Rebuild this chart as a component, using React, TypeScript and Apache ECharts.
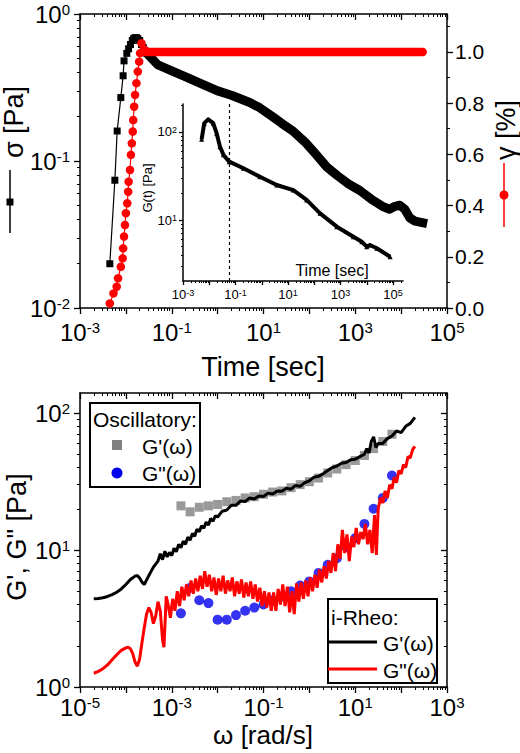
import React, { useEffect, useRef } from "react";
import * as echarts from "echarts";

const FONT = "'Liberation Sans', Arial, Helvetica, sans-serif";

// ---------- Top panel: start-up of stress sigma(t) and strain gamma(t) ----------
const sigmaRiseLogT = [-2.35, -2.24, -2.19, -2.11, -2.06, -2.04, -1.98, -1.94, -1.9, -1.86, -1.83, -1.8, -1.77, -1.74, -1.7, -1.66, -1.62, -1.58, -1.54];
const sigmaRise = [0.02, 0.074, 0.16, 0.27, 0.38, 0.48, 0.54, 0.58, 0.62, 0.66, 0.68, 0.69, 0.69, 0.68, 0.66, 0.62, 0.59, 0.56, 0.54];
const sigmaDecayLogT = [-1.54, -1.3, -1.0, -0.67, -0.3, 0.0, 0.3, 0.7, 0.92, 1.2, 1.4, 1.64, 1.9, 2.1, 2.38, 2.6, 2.85, 3.1, 3.35, 3.6, 3.75, 3.85, 3.97, 4.08, 4.19, 4.3, 4.47];
const sigmaDecay = [0.54, 0.45, 0.41, 0.37, 0.33, 0.3, 0.28, 0.25, 0.23, 0.2, 0.18, 0.16, 0.135, 0.115, 0.091, 0.08, 0.07, 0.063, 0.055, 0.049, 0.047, 0.049, 0.05, 0.047, 0.041, 0.039, 0.038];

const gammaRiseLogT = [-2.35, -2.27, -2.2, -2.17, -2.11, -2.07, -2.06, -2.04, -2.02, -2.0, -1.97, -1.95, -1.94, -1.91, -1.89, -1.87, -1.85, -1.84, -1.82, -1.8, -1.77, -1.74, -1.71, -1.69, -1.66, -1.6];
const gammaRise = [0.018, 0.057, 0.083, 0.116, 0.161, 0.194, 0.233, 0.279, 0.324, 0.37, 0.409, 0.454, 0.493, 0.539, 0.598, 0.643, 0.689, 0.734, 0.786, 0.832, 0.878, 0.923, 0.962, 0.995, 1.034, 1.01];
const gammaPlateauLogT = [-1.57, 4.47];
const gammaPlateau = [1.0, 1.0];

// Inset: relaxation modulus G(t)
const insetLogT = [-2.29, -2.19, -2.04, -1.85, -1.72, -1.59, -1.46, -1.24, -0.7, -0.07, 0.57, 1.2, 1.71, 2.22, 2.86, 3.49, 3.81, 4.0, 4.12, 4.38, 4.89];
const insetG = [82.6, 126, 139, 126, 97, 68, 55, 46, 38.7, 31, 25, 21.9, 16.9, 11.9, 8.4, 6.46, 5.66, 4.98, 5.2, 4.77, 3.83];
const insetDashLogT = -1.24;

// ---------- Bottom panel: G'(w), G''(w) ----------
const oscLogW = [-2.8, -2.6, -2.4, -2.2, -2.0, -1.8, -1.6, -1.4, -1.2, -1.0, -0.8, -0.6, -0.4, -0.2, 0.0, 0.2, 0.4, 0.6, 0.8, 1.0, 1.2, 1.4, 1.6, 1.8];
const oscGp = [21, 19, 20.5, 21, 21.5, 22.5, 23, 24, 24.5, 25.5, 26.5, 27, 28.5, 30, 31.5, 33.5, 36.5, 39, 42, 45, 49, 55, 62, 70];
const oscGpp = [3.45, 5.3, 4.3, 4.1, 3.1, 3.1, 3.35, 3.6, 3.8, 4.0, 4.3, 4.6, 5.0, 5.5, 5.9, 6.8, 7.8, 8.7, 10.5, 12.2, 15.5, 20, 24, 35];

const rheoGpLogW = [-4.7, -4.6, -4.5, -4.4, -4.3, -4.2, -4.1, -4.0, -3.9, -3.8, -3.75, -3.7, -3.65, -3.6, -3.5, -3.4, -3.3, -3.25, -3.2, -3.15, -3.1, -3.05, -3.0, -2.95, -2.9, -2.85, -2.8, -2.75, -2.7, -2.65, -2.6, -2.55, -2.5, -2.45, -2.4, -2.35, -2.3, -2.25, -2.2, -2.15, -2.1, -2.05, -2.0, -1.9, -1.8, -1.7, -1.6, -1.5, -1.4, -1.3, -1.2, -1.1, -1.0, -0.9, -0.8, -0.7, -0.6, -0.5, -0.4, -0.3, -0.2, -0.1, 0.0, 0.1, 0.2, 0.3, 0.4, 0.5, 0.6, 0.7, 0.8, 0.9, 1.0, 1.1, 1.2, 1.25, 1.3, 1.35, 1.4, 1.45, 1.5, 1.6, 1.7, 1.8, 1.9, 2.0, 2.1, 2.2, 2.3];
const rheoGp = [4.4, 4.42, 4.48, 4.58, 4.72, 4.92, 5.2, 5.6, 6.1, 6.45, 6.5, 6.25, 5.85, 5.6, 6.5, 7.5, 8.3, 9.4, 8.5, 9.8, 8.9, 9.6, 9.1, 10.3, 9.7, 11.0, 10.4, 11.6, 11.0, 12.4, 11.8, 13.2, 12.6, 14.2, 13.6, 15.0, 14.4, 16.0, 15.2, 17.0, 16.2, 17.8, 17.4, 19.2, 19.6, 21.2, 21.2, 22.8, 22.6, 24.0, 23.6, 24.8, 24.6, 26.0, 25.6, 27.0, 26.8, 28.2, 27.8, 29.6, 29.2, 31.0, 32.0, 34.0, 34.5, 36.0, 38.0, 40.0, 41.0, 43.0, 43.5, 45.5, 46.0, 48.0, 50.0, 55.0, 51.0, 62.0, 67.0, 56.0, 60.0, 60.0, 65.0, 68.0, 74.0, 72.0, 80.0, 84.0, 93.0];

const rheoGppLogW = [-4.7, -4.6, -4.5, -4.4, -4.3, -4.2, -4.1, -4.0, -3.95, -3.9, -3.85, -3.8, -3.75, -3.7, -3.65, -3.6, -3.55, -3.5, -3.45, -3.4, -3.35, -3.3, -3.25, -3.2, -3.17, -3.12, -3.08, -3.03, -2.98, -2.93, -2.88, -2.83, -2.78, -2.73, -2.68, -2.63, -2.58, -2.53, -2.48, -2.43, -2.38, -2.33, -2.28, -2.23, -2.18, -2.13, -2.08, -2.03, -1.98, -1.93, -1.88, -1.83, -1.78, -1.73, -1.68, -1.63, -1.58, -1.53, -1.48, -1.43, -1.38, -1.33, -1.28, -1.23, -1.18, -1.13, -1.08, -1.03, -0.98, -0.93, -0.88, -0.83, -0.78, -0.73, -0.68, -0.63, -0.58, -0.53, -0.48, -0.43, -0.38, -0.33, -0.28, -0.23, -0.18, -0.13, -0.08, -0.03, 0.02, 0.07, 0.12, 0.17, 0.22, 0.27, 0.32, 0.37, 0.42, 0.47, 0.52, 0.57, 0.62, 0.67, 0.72, 0.77, 0.82, 0.87, 0.92, 0.97, 1.02, 1.07, 1.12, 1.17, 1.22, 1.27, 1.32, 1.37, 1.42, 1.46, 1.5, 1.55, 1.6, 1.65, 1.7, 1.75, 1.8, 1.85, 1.9, 1.95, 2.0, 2.05, 2.1, 2.15, 2.2, 2.25, 2.3];
const rheoGpp = [1.26, 1.3, 1.36, 1.45, 1.58, 1.72, 1.85, 1.93, 1.95, 1.9, 1.75, 1.52, 1.42, 1.6, 2.1, 2.7, 3.4, 3.8, 3.5, 2.9, 3.3, 4.2, 3.6, 2.2, 1.95, 4.6, 4.0, 3.2, 4.4, 3.6, 5.0, 3.9, 5.4, 4.3, 5.6, 4.6, 6.0, 4.8, 6.2, 5.0, 6.5, 5.2, 7.0, 5.4, 6.6, 5.0, 6.3, 4.7, 6.2, 5.0, 6.5, 4.8, 6.0, 5.0, 6.3, 4.6, 5.9, 4.8, 6.1, 4.5, 5.8, 4.6, 5.9, 4.4, 5.6, 4.2, 5.3, 3.9, 5.0, 3.8, 4.9, 3.6, 4.9, 3.6, 5.2, 4.0, 5.6, 3.9, 5.4, 3.5, 5.0, 3.4, 5.7, 4.2, 5.8, 4.4, 6.0, 4.6, 6.3, 5.0, 6.6, 5.3, 7.2, 5.8, 7.6, 6.2, 8.3, 6.8, 9.5, 7.0, 11.0, 8.6, 14.0, 9.5, 13.0, 8.3, 12.5, 10.5, 14.5, 11.0, 13.5, 12.0, 15.5, 11.0, 14.0, 9.5, 18.0, 9.2, 20, 24, 22, 27, 24, 30, 28, 34, 31, 38, 36, 42, 40, 48, 47, 54, 57];

// ---------- Axis tick labels (decade exponents) ----------
const topXLabels = [-3, -1, 1, 3, 5];
const topYLabels = [-2, -1, 0];
const gammaLabels = [0, 0.2, 0.4, 0.6, 0.8, 1.0];
const gammaMinor = [0.1, 0.3, 0.5, 0.7, 0.9, 1.1];
const insetXLabels = [-3, -1, 1, 3, 5];
const insetYLabels = [1, 2];
const botXLabels = [-5, -3, -1, 1, 3];
const botYLabels = [0, 1, 2];

function majors(lo: number, hi: number) {
  const out: number[] = [];
  for (let n = Math.ceil(lo); n <= Math.floor(hi); n++) out.push(n);
  return out;
}
function minors(lo: number, hi: number) {
  const out: number[] = [];
  for (let n = Math.floor(lo); n < Math.ceil(hi); n++) {
    for (let k = 2; k <= 9; k++) {
      const v = n + Math.log10(k);
      if (v > lo + 1e-9 && v < hi - 1e-9) out.push(v);
    }
  }
  return out;
}

const supRich = (size: number, sup: number) => ({
  b: { fontSize: size, fontFamily: FONT, color: "#000" },
  s: { fontSize: sup, fontFamily: FONT, color: "#000", verticalAlign: "top", lineHeight: sup },
});
const supFmt = (v: number) => `{b|10}{s|${Math.round(v)}}`;

function axisPair(
  gridIndex: number,
  position: string,
  min: number,
  max: number,
  inside: boolean,
  labels: number[] | null,
  size: number,
  sup: number,
  margin: number,
  majLen = 6,
  minLen = 3
) {
  const base = {
    type: "value",
    gridIndex,
    position,
    min,
    max,
    splitLine: { show: false },
  };
  const major = {
    ...base,
    axisLine: { show: true, onZero: false, lineStyle: { color: "#000", width: 1.5 } },
    axisTick: {
      show: true,
      inside,
      length: majLen,
      customValues: majors(min, max),
      lineStyle: { color: "#000", width: 1.3 },
    },
    axisLabel: labels
      ? {
          show: true,
          customValues: labels,
          margin,
          formatter: supFmt,
          rich: supRich(size, sup),
        }
      : { show: false },
  };
  const minor = {
    ...base,
    axisLine: { show: false, onZero: false },
    axisTick: {
      show: true,
      inside,
      length: minLen,
      customValues: minors(min, max),
      lineStyle: { color: "#000", width: 1 },
    },
    axisLabel: { show: false },
  };
  return [major, minor];
}

const TOP_X = [-3, 5];
const TOP_Y = [-2, 0];
const GAMMA = [0, 1.148];
const INS_X = [-3, 5.38];
const INS_Y = [0.307, 2.318];
const BOT_X = [-5, 3];
const BOT_Y = [0, 2.146];

export default function App() {
  const ref = useRef<HTMLDivElement>(null);
  useEffect(() => {
    if (!ref.current) return;
    const chart = echarts.init(ref.current, undefined, { renderer: "svg" });

    const xAxes = [
      ...axisPair(0, "bottom", TOP_X[0], TOP_X[1], false, topXLabels, 24, 15, 12), // 0,1
      ...axisPair(0, "top", TOP_X[0], TOP_X[1], true, null, 0, 0, 0), // 2,3
      ...axisPair(1, "bottom", INS_X[0], INS_X[1], false, insetXLabels, 13, 9, 7, 4, 2), // 4,5
      ...axisPair(2, "bottom", BOT_X[0], BOT_X[1], false, botXLabels, 24, 15, 8), // 6,7
      ...axisPair(2, "top", BOT_X[0], BOT_X[1], true, null, 0, 0, 0), // 8,9
    ];
    const gammaMajor = {
      type: "value",
      gridIndex: 0,
      position: "right",
      min: GAMMA[0],
      max: GAMMA[1],
      splitLine: { show: false },
      axisLine: { show: true, onZero: false, lineStyle: { color: "#000", width: 1.5 } },
      axisTick: { show: true, inside: false, length: 6, customValues: gammaLabels, lineStyle: { color: "#000", width: 1.3 } },
      axisLabel: {
        show: true,
        customValues: gammaLabels,
        margin: 8,
        formatter: (v: number) => v.toFixed(1),
        fontSize: 21,
        fontFamily: FONT,
        color: "#000",
      },
    };
    const gammaMinorAxis = {
      type: "value",
      gridIndex: 0,
      position: "right",
      min: GAMMA[0],
      max: GAMMA[1],
      splitLine: { show: false },
      axisLine: { show: false, onZero: false },
      axisTick: { show: true, inside: false, length: 3, customValues: gammaMinor, lineStyle: { color: "#000", width: 1 } },
      axisLabel: { show: false },
    };
    const yAxes = [
      ...axisPair(0, "left", TOP_Y[0], TOP_Y[1], false, topYLabels, 24, 15, 10), // 0,1
      gammaMajor, // 2
      gammaMinorAxis, // 3
      ...axisPair(1, "left", INS_Y[0], INS_Y[1], false, insetYLabels, 13, 9, 6, 4, 2), // 4,5
      ...axisPair(2, "left", BOT_Y[0], BOT_Y[1], false, botYLabels, 24, 15, 10), // 6,7
      ...axisPair(2, "right", BOT_Y[0], BOT_Y[1], true, null, 0, 0, 0), // 8,9
    ];

    const lg = (arr: number[]) => arr.map((v) => Math.log10(v));
    const pairs = (xs: number[], ys: number[]) => xs.map((x, i) => [x, ys[i]]);

    const series: any[] = [
      // top: sigma
      {
        type: "line",
        xAxisIndex: 0,
        yAxisIndex: 0,
        data: pairs(sigmaDecayLogT, lg(sigmaDecay)),
        showSymbol: false,
        lineStyle: { color: "#000", width: 9, cap: "square", join: "round" },
        z: 2,
      },
      {
        type: "line",
        xAxisIndex: 0,
        yAxisIndex: 0,
        data: pairs(sigmaRiseLogT, lg(sigmaRise)),
        symbol: "rect",
        symbolSize: 7,
        itemStyle: { color: "#000" },
        lineStyle: { color: "#000", width: 1.2 },
        z: 3,
      },
      // top: gamma
      {
        type: "line",
        xAxisIndex: 0,
        yAxisIndex: 2,
        data: pairs(gammaPlateauLogT, gammaPlateau),
        showSymbol: false,
        lineStyle: { color: "#ff0000", width: 8.5, cap: "round" },
        z: 4,
      },
      {
        type: "line",
        xAxisIndex: 0,
        yAxisIndex: 2,
        data: pairs(gammaRiseLogT, gammaRise),
        symbol: "circle",
        symbolSize: 8.5,
        itemStyle: { color: "#ff0000" },
        lineStyle: { color: "#ff0000", width: 1.2 },
        z: 5,
      },
      // inset
      {
        type: "line",
        xAxisIndex: 4,
        yAxisIndex: 4,
        data: pairs(insetLogT, lg(insetG)),
        symbol: "triangle",
        symbolSize: 5,
        showSymbol: true,
        itemStyle: { color: "#000" },
        lineStyle: { color: "#000", width: 4, join: "round" },
        markLine: {
          silent: true,
          symbol: "none",
          label: { show: false },
          lineStyle: { color: "#000", width: 1.2, type: [3, 3] },
          data: [{ xAxis: insetDashLogT }],
        },
        z: 6,
      },
      // bottom: oscillatory
      {
        type: "scatter",
        xAxisIndex: 6,
        yAxisIndex: 6,
        data: pairs(oscLogW, lg(oscGp)),
        symbol: "rect",
        symbolSize: 9,
        itemStyle: { color: "#808080" },
        z: 2,
      },
      {
        type: "scatter",
        xAxisIndex: 6,
        yAxisIndex: 6,
        data: pairs(oscLogW, lg(oscGpp)),
        symbol: "circle",
        symbolSize: 10,
        itemStyle: { color: "#0000ee" },
        z: 2,
      },
      // bottom: i-Rheo
      {
        type: "line",
        xAxisIndex: 6,
        yAxisIndex: 6,
        data: pairs(rheoGpLogW, lg(rheoGp)),
        showSymbol: false,
        lineStyle: { color: "#000", width: 3 },
        z: 3,
      },
      {
        type: "line",
        xAxisIndex: 6,
        yAxisIndex: 6,
        data: pairs(rheoGppLogW, lg(rheoGpp)),
        showSymbol: false,
        lineStyle: { color: "#ff0000", width: 3 },
        z: 4,
      },
    ];

    const txt = (text: string, x: number, y: number, size: number, rot = 0, align = "center") => ({
      type: "text",
      x,
      y,
      rotation: rot,
      z: 100,
      style: { text, x: 0, y: 0, align, verticalAlign: "middle", fontSize: size, fontFamily: FONT, fill: "#000" },
    });

    const graphic: any[] = [
      txt("Time [sec]", 263, 367, 27),
      txt("σ [Pa]", 14, 122, 27, Math.PI / 2),
      { type: "line", z: 100, shape: { x1: 10, y1: 170, x2: 10, y2: 233 }, style: { stroke: "#000", lineWidth: 1.5 } },
      { type: "rect", z: 100, shape: { x: 6.5, y: 198.5, width: 7, height: 7 }, style: { fill: "#000" } },
      txt("γ [%]", 506, 130, 27, Math.PI / 2),
      { type: "line", z: 100, shape: { x1: 504, y1: 163, x2: 504, y2: 227 }, style: { stroke: "#ff0000", lineWidth: 1.5 } },
      { type: "circle", z: 100, shape: { cx: 504, cy: 195, r: 4.5 }, style: { fill: "#ff0000" } },
      txt("Time [sec]", 332, 270, 16),
      txt("G(t) [Pa]", 147, 188, 13, Math.PI / 2),
      txt("ω [rad/s]", 263, 735, 26),
      txt('G\', G" [Pa]', 17, 537, 27, Math.PI / 2),
      // Oscillatory legend box
      { type: "rect", z: 100, shape: { x: 90, y: 403, width: 110, height: 84 }, style: { fill: "#fff", stroke: "#000", lineWidth: 2 } },
      txt("Oscillatory:", 93, 419, 21, 0, "left"),
      { type: "rect", z: 101, shape: { x: 112, y: 440, width: 10, height: 10 }, style: { fill: "#808080" } },
      txt("G'(ω)", 142, 446, 21, 0, "left"),
      { type: "circle", z: 101, shape: { cx: 117, cy: 473, r: 5.5 }, style: { fill: "#0000ee" } },
      txt('G"(ω)', 142, 473, 21, 0, "left"),
      // i-Rheo legend box
      { type: "rect", z: 100, shape: { x: 328, y: 599, width: 109, height: 84 }, style: { fill: "#fff", stroke: "#000", lineWidth: 2 } },
      txt("i-Rheo:", 331, 617, 21, 0, "left"),
      { type: "line", z: 101, shape: { x1: 328, y1: 642, x2: 377, y2: 642 }, style: { stroke: "#000", lineWidth: 3 } },
      txt("G'(ω)", 383, 643, 21, 0, "left"),
      { type: "line", z: 101, shape: { x1: 328, y1: 669, x2: 377, y2: 669 }, style: { stroke: "#ff0000", lineWidth: 3 } },
      txt('G"(ω)', 383, 670, 21, 0, "left"),
    ];

    chart.setOption({
      animation: false,
      backgroundColor: "#fff",
      textStyle: { fontFamily: FONT },
      grid: [
        { left: 80, top: 14, width: 367, height: 294, containLabel: false },
        { left: 183, top: 104, width: 220, height: 177, containLabel: false },
        { left: 80, top: 393, width: 367, height: 294, containLabel: false },
      ],
      xAxis: xAxes,
      yAxis: yAxes,
      series,
      graphic,
    });
    return () => chart.dispose();
  }, []);

  return (
    <div
      ref={ref}
      style={{ position: "absolute", left: 0, top: 0, width: 520, height: 753, background: "#fff" }}
    />
  );
}
